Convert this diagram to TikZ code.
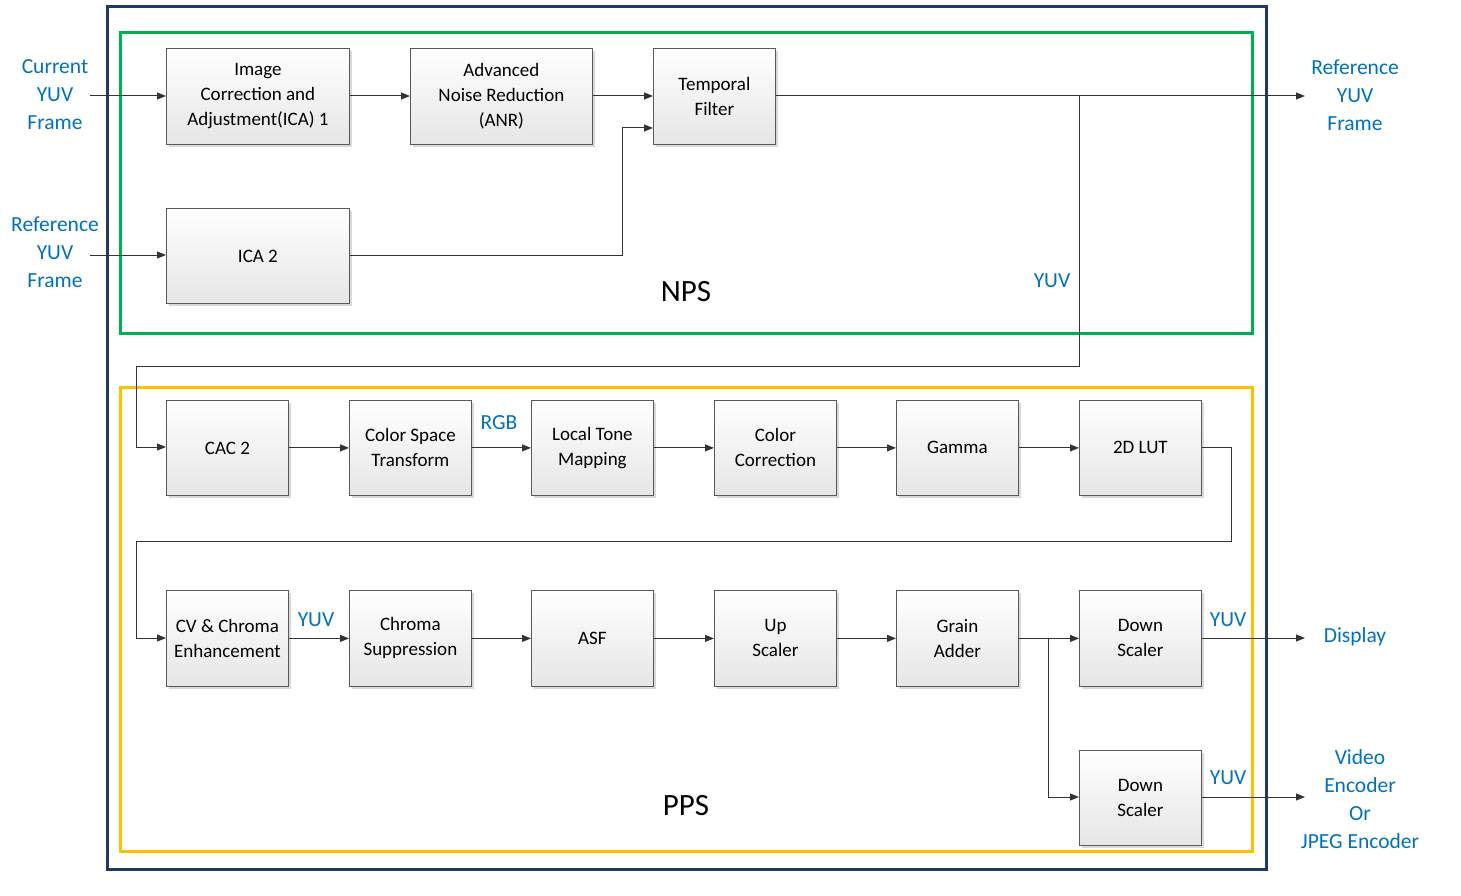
\documentclass[tikz,border=0pt]{standalone}
\usepackage{fontspec}
\setmainfont{Carlito}
\usetikzlibrary{arrows.meta,shadows}
\definecolor{lbl}{RGB}{0,112,192}
\definecolor{navy}{RGB}{31,56,100}
\definecolor{grn}{RGB}{0,176,80}
\definecolor{org}{RGB}{255,192,0}
\begin{document}
\begin{tikzpicture}[x=1pt,y=-1pt,
 blk/.style={draw=gray!70!black,line width=0.8pt,top color=white,bottom color=black!10,
   drop shadow={shadow xshift=2.5pt,shadow yshift=-2.5pt,fill=black!25,opacity=0.6},
   align=center,font=\fontsize{19}{25}\selectfont,anchor=north west,inner sep=0pt},
 lab/.style={text=lbl,align=center,font=\fontsize{21.5}{28}\selectfont},
 ar/.style={-{Triangle[length=9pt,width=7pt]},line width=1pt,draw=black!80}]
\useasboundingbox (0,0) rectangle (1461,896);
\draw[navy,line width=3pt] (107,7) rectangle (1266,869);
\draw[grn,line width=3pt] (120,33) rectangle (1252,333);
\draw[org,line width=3pt] (120,387) rectangle (1252,851);
\newcommand\bx[6]{\node[blk,minimum width=#4pt,minimum height=#5pt] (#1) at (#2,#3) {#6};}
\bx{ica1}{166}{48}{183}{96}{Image\\Correction and\\Adjustment(ICA) 1}
\bx{anr}{410}{48}{182}{96}{Advanced\\Noise Reduction\\(ANR)}
\bx{tf}{653}{48}{122}{96}{Temporal\\Filter}
\bx{ica2}{166}{208}{183}{95}{ICA 2}
\bx{cac}{166}{400}{122}{95}{CAC 2}
\bx{cst}{349}{400}{122}{95}{Color Space\\Transform}
\bx{ltm}{531}{400}{122}{95}{Local Tone\\Mapping}
\bx{cc}{714}{400}{122}{95}{Color\\Correction}
\bx{gam}{896}{400}{122}{95}{Gamma}
\bx{lut}{1079}{400}{122}{95}{2D LUT}
\bx{cv}{166}{590}{122}{96}{CV \& Chroma\\Enhancement}
\bx{cs}{349}{590}{122}{96}{Chroma\\Suppression}
\bx{asf}{531}{590}{122}{96}{ASF}
\bx{up}{714}{590}{122}{96}{Up\\Scaler}
\bx{ga}{896}{590}{122}{96}{Grain\\Adder}
\bx{ds1}{1079}{590}{122}{96}{Down\\Scaler}
\bx{ds2}{1079}{750}{122}{95}{Down\\Scaler}
\node[lab] (cur) at (55,95) {Current\\YUV\\Frame};
\node[lab] (ref) at (55,252) {Reference\\YUV\\Frame};
\node[lab] (rref) at (1355,95) {Reference\\YUV\\Frame};
\node[lab] (disp) at (1355,637) {Display};
\node[lab] (venc) at (1360,799) {Video\\Encoder\\Or\\JPEG Encoder};
\node[lab] at (1052,281) {YUV};
\node[lab] at (499,423) {RGB};
\node[lab] at (316,620) {YUV};
\node[lab] at (1228,620) {YUV};
\node[lab] at (1228,778) {YUV};
\node[font=\fontsize{31}{36}\selectfont] at (686,292) {NPS};
\node[font=\fontsize{31}{36}\selectfont] at (686,806) {PPS};
\coordinate (c1) at (90,96); \coordinate (c2) at (90,255);
\coordinate (o1) at (1305,96); \coordinate (o2) at (1305,638); \coordinate (o3) at (1305,797);
\draw[ar] (c1) -- (ica1.west|-c1);
\draw[ar] (c2) -- (ica2.west|-c2);
\draw[ar] (ica1.east|-0,96) -- (anr.west|-0,96);
\draw[ar] (anr.east|-0,96) -- (tf.west|-0,96);
\draw[ar] (ica2.east|-0,255) -- (622,255) -- (622,128) -- (tf.west|-0,128);
\draw[ar] (tf.east|-0,96) -- (o1);
\draw[ar] (1079,96) -- (1079,366) -- (136,366) -- (136,447) -- (cac.west|-0,447);
\draw[ar] (cac) -- (cst); \draw[ar] (cst) -- (ltm); \draw[ar] (ltm) -- (cc);
\draw[ar] (cc) -- (gam); \draw[ar] (gam) -- (lut);
\draw[ar] (lut.east|-0,447) -- (1231,447) -- (1231,541) -- (136,541) -- (136,638) -- (cv.west|-0,638);
\draw[ar] (cv) -- (cs); \draw[ar] (cs) -- (asf); \draw[ar] (asf) -- (up); \draw[ar] (up) -- (ga);
\draw[ar] (ga) -- (ds1);
\draw[ar] (1048,638) -- (1048,797) -- (ds2.west|-0,797);
\draw[ar] (ds1.east|-0,638) -- (o2);
\draw[ar] (ds2.east|-0,797) -- (o3);
\end{tikzpicture}
\end{document}
